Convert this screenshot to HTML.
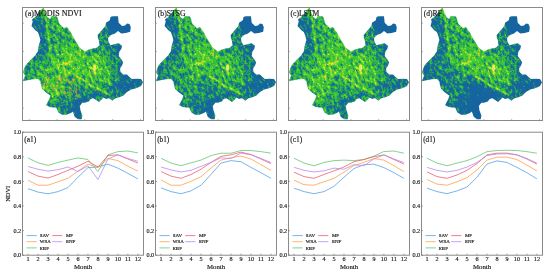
<!DOCTYPE html>
<html lang="en"><head><meta charset="utf-8"><title>NDVI reconstruction comparison</title>
<style>html,body{margin:0;padding:0;background:#fff}svg{display:block}text{font-family:"Liberation Serif",serif;fill:#1a1a1a;stroke:#1a1a1a;stroke-width:0.16px}</style>
</head><body>
<svg width="550" height="275" viewBox="0 0 550 275">
<defs>
<clipPath id="yn"><polygon points="43.5,7.5 45.5,12.6 47.4,17 50,19 51.8,16 57,16.5 58,19 59.5,24 64,28 67,27 71,32.4 72,35 76,41.4 79.8,47.7 85,51.5 88.8,49.6 92.6,48.4 96.5,47.7 99.6,45.2 99,41.4 97.7,37.5 97.7,35 101.5,30.5 105.4,26 106,22.8 109.8,20.3 110.5,17 112.4,16.2 118,16.2 118.3,19 118.7,22.8 122,26 125,25.4 127,23.5 129.5,24 130.8,27.3 130.2,31.7 125.7,33 121.3,33.6 118,31 115,33.6 111,35 108,38 108.5,42 110.5,45.2 115,44 118.7,43.3 122,45.8 121.3,49 119.4,51.5 118.7,56 121.3,59.2 123.2,62.4 122,65.5 120,68.8 120.6,72 123.2,74.5 127,74.5 129.5,77 132,79 137.2,78.7 141,79 143,82.2 141,86 138.5,87.3 135.3,88.5 132,89.2 129.5,90.5 127,92 123.2,95.7 118.7,97.6 115.5,98.3 112.4,100.8 109.2,98.3 106,99 103.5,97.6 101,100.2 99,102 96.5,100.2 93.3,98.3 90.7,99 88.8,101.5 85,102.7 82.4,102.7 79.8,106 80.5,110.4 82.4,115.5 81.7,119.3 78,119.3 74.7,116.7 72.8,111.6 71,113 66.5,114.8 62,114.8 58.2,112.3 56.3,107.8 50.5,107.2 46,105.3 48.6,100.2 50.5,95.7 46,92.4 42.3,89.2 41,85.4 40.4,81.5 37.8,79 32.7,79.3 27.6,80.3 22.8,81.3 23.8,79 25,75.8 23.2,72.6 23.8,69.5 25.7,65 27.6,63 31.5,59 34.6,56 37.8,51.5 38.5,46.5 40.4,40 39,35 37.8,32 35.6,30.5 31.5,26 32.7,21.5 32,19.6 36.5,15.8 39,12.6 41.5,9.5"/></clipPath>
<filter id="tex" x="0" y="0" width="100%" height="100%" filterUnits="objectBoundingBox" color-interpolation-filters="sRGB">
<feTurbulence type="fractalNoise" baseFrequency="0.4 0.2" numOctaves="4" seed="7" result="n"/>
<feColorMatrix in="n" type="matrix" values="1 0 0 0 0  1 0 0 0 0  1 0 0 0 0  0 0 0 0 1" result="ng"/>
<feTurbulence type="fractalNoise" baseFrequency="0.9" numOctaves="2" seed="3" result="m"/>
<feColorMatrix in="m" type="matrix" values="0 1 0 0 0  0 1 0 0 0  0 1 0 0 0  0 0 0 0 1" result="mg"/>
<feComposite in="SourceGraphic" in2="ng" operator="arithmetic" k1="0" k2="1.0" k3="1.2" k4="-0.70" result="mix0"/>
<feComposite in="mix0" in2="mg" operator="arithmetic" k1="0" k2="1" k3="0.7" k4="-0.35" result="mix"/>
<feComponentTransfer in="mix"><feFuncR type="table" tableValues="0.086 0.086 0.082 0.082 0.082 0.086 0.090 0.102 0.157 0.196 0.204 0.212 0.235 0.282 0.361 0.478 0.620 0.776 0.918 0.965 0.953"/><feFuncG type="table" tableValues="0.392 0.392 0.396 0.404 0.408 0.420 0.435 0.494 0.667 0.753 0.761 0.769 0.780 0.796 0.824 0.863 0.898 0.925 0.941 0.871 0.706"/><feFuncB type="table" tableValues="0.635 0.635 0.627 0.620 0.612 0.600 0.584 0.529 0.306 0.216 0.212 0.208 0.204 0.196 0.188 0.180 0.173 0.165 0.157 0.157 0.157"/><feFuncA type="linear" slope="0" intercept="1"/></feComponentTransfer><feGaussianBlur stdDeviation="0.3"/>
</filter>
<filter id="bl2" x="-20%" y="-20%" width="140%" height="140%" color-interpolation-filters="sRGB"><feGaussianBlur stdDeviation="0.7"/></filter>
<filter id="bl" x="-20%" y="-20%" width="140%" height="140%" color-interpolation-filters="sRGB"><feGaussianBlur stdDeviation="3"/></filter>
</defs>
<g transform="translate(0,0)">
<g clip-path="url(#yn)"><g filter="url(#tex)" transform="rotate(-22 83 64)">
<rect x="-10" y="-30" width="190" height="190" fill="rgb(120,120,120)"/>
<g filter="url(#bl)" transform="rotate(22 83 64)">
<rect x="20" y="5" width="11" height="10.5" fill="rgb(95,95,95)"/>
<rect x="30" y="5" width="11" height="10.5" fill="rgb(133,133,133)"/>
<rect x="40" y="5" width="11" height="10.5" fill="rgb(192,192,192)"/>
<rect x="50" y="5" width="11" height="10.5" fill="rgb(164,164,164)"/>
<rect x="60" y="5" width="21" height="10.5" fill="rgb(142,142,142)"/>
<rect x="80" y="5" width="11" height="10.5" fill="rgb(117,117,117)"/>
<rect x="90" y="5" width="11" height="10.5" fill="rgb(76,76,76)"/>
<rect x="100" y="5" width="51" height="10.5" fill="rgb(9,9,9)"/>
<rect x="20" y="15" width="21" height="10.5" fill="rgb(95,95,95)"/>
<rect x="40" y="15" width="41" height="10.5" fill="rgb(142,142,142)"/>
<rect x="80" y="15" width="11" height="10.5" fill="rgb(119,119,119)"/>
<rect x="90" y="15" width="11" height="10.5" fill="rgb(95,95,95)"/>
<rect x="100" y="15" width="11" height="10.5" fill="rgb(76,76,76)"/>
<rect x="110" y="15" width="41" height="10.5" fill="rgb(9,9,9)"/>
<rect x="20" y="25" width="21" height="10.5" fill="rgb(76,76,76)"/>
<rect x="40" y="25" width="11" height="10.5" fill="rgb(110,110,110)"/>
<rect x="50" y="25" width="31" height="10.5" fill="rgb(142,142,142)"/>
<rect x="80" y="25" width="11" height="10.5" fill="rgb(123,123,123)"/>
<rect x="90" y="25" width="11" height="10.5" fill="rgb(102,102,102)"/>
<rect x="100" y="25" width="11" height="10.5" fill="rgb(95,95,95)"/>
<rect x="110" y="25" width="41" height="10.5" fill="rgb(9,9,9)"/>
<rect x="20" y="35" width="21" height="10.5" fill="rgb(76,76,76)"/>
<rect x="40" y="35" width="11" height="10.5" fill="rgb(95,95,95)"/>
<rect x="50" y="35" width="31" height="10.5" fill="rgb(142,142,142)"/>
<rect x="80" y="35" width="11" height="10.5" fill="rgb(136,136,136)"/>
<rect x="90" y="35" width="11" height="10.5" fill="rgb(110,110,110)"/>
<rect x="100" y="35" width="11" height="10.5" fill="rgb(123,123,123)"/>
<rect x="110" y="35" width="11" height="10.5" fill="rgb(76,76,76)"/>
<rect x="120" y="35" width="11" height="10.5" fill="rgb(54,54,54)"/>
<rect x="130" y="35" width="21" height="10.5" fill="rgb(9,9,9)"/>
<rect x="20" y="45" width="31" height="10.5" fill="rgb(110,110,110)"/>
<rect x="50" y="45" width="11" height="10.5" fill="rgb(142,142,142)"/>
<rect x="60" y="45" width="11" height="10.5" fill="rgb(164,164,164)"/>
<rect x="70" y="45" width="11" height="10.5" fill="rgb(192,192,192)"/>
<rect x="80" y="45" width="11" height="10.5" fill="rgb(164,164,164)"/>
<rect x="90" y="45" width="21" height="10.5" fill="rgb(123,123,123)"/>
<rect x="110" y="45" width="31" height="10.5" fill="rgb(76,76,76)"/>
<rect x="140" y="45" width="11" height="10.5" fill="rgb(42,42,42)"/>
<rect x="20" y="55" width="11" height="10.5" fill="rgb(110,110,110)"/>
<rect x="30" y="55" width="21" height="10.5" fill="rgb(123,123,123)"/>
<rect x="50" y="55" width="11" height="10.5" fill="rgb(164,164,164)"/>
<rect x="60" y="55" width="21" height="10.5" fill="rgb(192,192,192)"/>
<rect x="80" y="55" width="11" height="10.5" fill="rgb(164,164,164)"/>
<rect x="90" y="55" width="11" height="10.5" fill="rgb(192,192,192)"/>
<rect x="100" y="55" width="11" height="10.5" fill="rgb(164,164,164)"/>
<rect x="110" y="55" width="11" height="10.5" fill="rgb(110,110,110)"/>
<rect x="120" y="55" width="31" height="10.5" fill="rgb(76,76,76)"/>
<rect x="20" y="65" width="11" height="10.5" fill="rgb(123,123,123)"/>
<rect x="30" y="65" width="11" height="10.5" fill="rgb(142,142,142)"/>
<rect x="40" y="65" width="21" height="10.5" fill="rgb(164,164,164)"/>
<rect x="60" y="65" width="21" height="10.5" fill="rgb(192,192,192)"/>
<rect x="80" y="65" width="11" height="10.5" fill="rgb(164,164,164)"/>
<rect x="90" y="65" width="11" height="10.5" fill="rgb(213,213,213)"/>
<rect x="100" y="65" width="11" height="10.5" fill="rgb(164,164,164)"/>
<rect x="110" y="65" width="11" height="10.5" fill="rgb(123,123,123)"/>
<rect x="120" y="65" width="31" height="10.5" fill="rgb(76,76,76)"/>
<rect x="20" y="75" width="11" height="10.5" fill="rgb(110,110,110)"/>
<rect x="30" y="75" width="11" height="10.5" fill="rgb(142,142,142)"/>
<rect x="40" y="75" width="31" height="10.5" fill="rgb(164,164,164)"/>
<rect x="70" y="75" width="11" height="10.5" fill="rgb(142,142,142)"/>
<rect x="80" y="75" width="31" height="10.5" fill="rgb(164,164,164)"/>
<rect x="110" y="75" width="11" height="10.5" fill="rgb(123,123,123)"/>
<rect x="120" y="75" width="11" height="10.5" fill="rgb(95,95,95)"/>
<rect x="130" y="75" width="21" height="10.5" fill="rgb(76,76,76)"/>
<rect x="20" y="85" width="11" height="10.5" fill="rgb(110,110,110)"/>
<rect x="30" y="85" width="11" height="10.5" fill="rgb(153,153,153)"/>
<rect x="40" y="85" width="11" height="10.5" fill="rgb(164,164,164)"/>
<rect x="50" y="85" width="11" height="10.5" fill="rgb(192,192,192)"/>
<rect x="60" y="85" width="11" height="10.5" fill="rgb(142,142,142)"/>
<rect x="70" y="85" width="21" height="10.5" fill="rgb(110,110,110)"/>
<rect x="90" y="85" width="11" height="10.5" fill="rgb(123,123,123)"/>
<rect x="100" y="85" width="11" height="10.5" fill="rgb(110,110,110)"/>
<rect x="110" y="85" width="11" height="10.5" fill="rgb(95,95,95)"/>
<rect x="120" y="85" width="31" height="10.5" fill="rgb(76,76,76)"/>
<rect x="20" y="95" width="11" height="10.5" fill="rgb(117,117,117)"/>
<rect x="30" y="95" width="41" height="10.5" fill="rgb(123,123,123)"/>
<rect x="70" y="95" width="11" height="10.5" fill="rgb(95,95,95)"/>
<rect x="80" y="95" width="11" height="10.5" fill="rgb(76,76,76)"/>
<rect x="90" y="95" width="31" height="10.5" fill="rgb(95,95,95)"/>
<rect x="120" y="95" width="11" height="10.5" fill="rgb(85,85,85)"/>
<rect x="130" y="95" width="21" height="10.5" fill="rgb(76,76,76)"/>
<rect x="20" y="105" width="51" height="10.5" fill="rgb(110,110,110)"/>
<rect x="70" y="105" width="21" height="10.5" fill="rgb(76,76,76)"/>
<rect x="90" y="105" width="11" height="10.5" fill="rgb(85,85,85)"/>
<rect x="100" y="105" width="31" height="10.5" fill="rgb(95,95,95)"/>
<rect x="130" y="105" width="11" height="10.5" fill="rgb(85,85,85)"/>
<rect x="140" y="105" width="11" height="10.5" fill="rgb(76,76,76)"/>
<rect x="20" y="115" width="41" height="10.5" fill="rgb(110,110,110)"/>
<rect x="60" y="115" width="11" height="10.5" fill="rgb(95,95,95)"/>
<rect x="70" y="115" width="31" height="10.5" fill="rgb(76,76,76)"/>
<rect x="100" y="115" width="11" height="10.5" fill="rgb(85,85,85)"/>
<rect x="110" y="115" width="31" height="10.5" fill="rgb(95,95,95)"/>
<rect x="140" y="115" width="11" height="10.5" fill="rgb(85,85,85)"/>
<ellipse cx="38" cy="30" rx="7" ry="12" fill="rgb(49,49,49)"/>
<ellipse cx="43.5" cy="46" rx="5" ry="13" fill="rgb(69,69,69)"/>
<ellipse cx="78" cy="112" rx="4" ry="7" fill="rgb(29,29,29)"/>
<ellipse cx="120" cy="24" rx="12" ry="7" fill="rgb(9,9,9)"/>
<ellipse cx="128" cy="85" rx="12" ry="5" fill="rgb(42,42,42)"/>
</g>
<g filter="url(#bl2)" transform="rotate(22 83 64)"><path d="M44.2 8L46.3 20L47.8 34L50 50L52.5 63" stroke="rgb(213,213,213)" stroke-width="1.8" fill="none"/><path d="M76 76L92 86L110 95" stroke="rgb(213,213,213)" stroke-width="2" fill="none"/></g>
</g></g>
<ellipse cx="94.6" cy="67.6" rx="1.5" ry="3.4" fill="#eef03c" clip-path="url(#yn)"/><ellipse cx="94.6" cy="68" rx="0.7" ry="1.8" fill="#d9dcc0"/>
<path clip-path="url(#yn)" d="M63.7 92.3l0.7 1.6M75.8 92.2l0.8 1.7M41.1 84.0l0.8 1.7M44.3 84.1l0.4 0.9M60.7 87.2l0.3 0.6M48.2 78.4l0.8 1.7M48.0 76.5l0.8 1.8M73.2 78.7l0.8 1.8M60.5 90.3l0.4 0.8M75.8 90.7l0.8 1.8M74.0 79.0l0.5 1.0M46.3 74.4l0.3 0.7M51.5 88.1l0.3 0.6M65.8 80.1l0.4 1.0M71.1 84.4l0.4 1.0M58.3 91.1l0.3 0.7M68.5 95.3l0.3 0.6M69.9 81.0l0.6 1.3M75.3 98.3l0.5 1.0M53.5 85.7l0.7 1.5M70.3 95.8l0.3 0.6M52.9 88.3l0.8 1.7M60.7 79.4l0.4 1.0M60.3 82.2l0.4 0.9M57.3 82.7l0.3 0.7M76.1 88.9l0.7 1.5M44.1 83.0l0.4 0.8M72.1 78.8l0.5 1.1M78.0 95.6l0.8 1.8M57.2 84.6l0.7 1.5M58.2 78.7l0.5 1.1M45.6 81.3l0.8 1.8M76.5 88.8l0.5 1.2M73.0 80.8l0.7 1.5M69.4 90.8l0.6 1.4M68.9 80.9l0.7 1.4M50.7 84.6l0.7 1.5M66.3 78.8l0.8 1.7M64.7 87.4l0.3 0.6M60.8 77.5l0.6 1.4M64.6 93.9l0.5 1.0M64.5 92.1l0.7 1.6M73.1 90.7l0.8 1.8M76.3 85.5l0.6 1.2M75.6 84.3l0.6 1.4M67.3 91.9l0.4 0.8M69.7 87.4l0.6 1.4M56.0 88.7l0.7 1.5M64.2 91.6l0.3 0.6M46.1 83.2l0.6 1.4M57.9 76.8l0.3 0.7M45.1 79.5l0.4 0.8M57.7 81.4l0.6 1.3M62.4 77.1l0.8 1.7M40.0 82.2l0.4 0.9M71.6 81.2l0.3 0.6M60.7 80.2l0.6 1.3M76.4 94.6l0.5 1.1M70.9 89.3l0.5 1.0M45.4 87.9l0.6 1.3" stroke="#eea23a" stroke-width="0.9" stroke-linecap="round" opacity="0.85" fill="none"/>
<rect x="22.5" y="7.5" width="121" height="113" fill="none" stroke="#8a8a8a" stroke-width="1"/>
<path d="M29.3 120.5v-1.6M57.1 120.5v-1.6M84.9 120.5v-1.6M112.7 120.5v-1.6M140.5 120.5v-1.6M22.5 23.2h1.6M22.5 51.5h1.6M22.5 79.9h1.6M22.5 108.2h1.6" stroke="#777" stroke-width="0.5" fill="none"/>
<text x="25" y="15.6" font-size="7.3" textLength="56.7" lengthAdjust="spacingAndGlyphs">(a)MODIS NDVI</text>
<rect x="22.5" y="132.2" width="121" height="123" fill="#fff" stroke="#8a8a8a" stroke-width="1"/>
<path d="M28.05 255.2v-1.5M38.03 255.2v-1.5M48.02 255.2v-1.5M58 255.2v-1.5M67.99 255.2v-1.5M77.97 255.2v-1.5M87.96 255.2v-1.5M97.94 255.2v-1.5M107.93 255.2v-1.5M117.91 255.2v-1.5M127.9 255.2v-1.5M137.88 255.2v-1.5M22.5 255.2h1.5M22.5 230.6h1.5M22.5 206h1.5M22.5 181.4h1.5M22.5 156.8h1.5M22.5 132.2h1.5" stroke="#555" stroke-width="0.5" fill="none"/>
<text x="21.2" y="257.3" font-size="6.2" text-anchor="end">0.0</text>
<text x="21.2" y="232.7" font-size="6.2" text-anchor="end">0.2</text>
<text x="21.2" y="208.1" font-size="6.2" text-anchor="end">0.4</text>
<text x="21.2" y="183.5" font-size="6.2" text-anchor="end">0.6</text>
<text x="21.2" y="158.9" font-size="6.2" text-anchor="end">0.8</text>
<text x="21.2" y="134.3" font-size="6.2" text-anchor="end">1.0</text>
<text x="28.05" y="261.4" font-size="6.2" text-anchor="middle">1</text>
<text x="38.03" y="261.4" font-size="6.2" text-anchor="middle">2</text>
<text x="48.02" y="261.4" font-size="6.2" text-anchor="middle">3</text>
<text x="58" y="261.4" font-size="6.2" text-anchor="middle">4</text>
<text x="67.99" y="261.4" font-size="6.2" text-anchor="middle">5</text>
<text x="77.97" y="261.4" font-size="6.2" text-anchor="middle">6</text>
<text x="87.96" y="261.4" font-size="6.2" text-anchor="middle">7</text>
<text x="97.94" y="261.4" font-size="6.2" text-anchor="middle">8</text>
<text x="107.93" y="261.4" font-size="6.2" text-anchor="middle">9</text>
<text x="117.91" y="261.4" font-size="6.2" text-anchor="middle">10</text>
<text x="127.9" y="261.4" font-size="6.2" text-anchor="middle">11</text>
<text x="137.88" y="261.4" font-size="6.2" text-anchor="middle">12</text>
<text x="83.1" y="269" font-size="6.8" text-anchor="middle">Month</text>
<text x="24.2" y="142.4" font-size="7.3" textLength="12" lengthAdjust="spacingAndGlyphs">(a1)</text>
<polyline points="28.05,188.66 38.03,192.1 48.02,193.82 58,191.61 67.99,187.55 77.97,177.22 87.96,167.62 97.94,167.01 107.93,164.18 117.91,168.12 127.9,173.4 137.88,178.82" fill="none" stroke="#57a1e2" stroke-width="0.8" stroke-linejoin="round"/>
<polyline points="28.05,180.17 38.03,185.21 48.02,185.21 58,181.77 67.99,178.32 77.97,171.07 87.96,164.06 97.94,167.62 107.93,158.52 117.91,160.61 127.9,166.27 137.88,171.07" fill="none" stroke="#ff9f4a" stroke-width="0.8" stroke-linejoin="round"/>
<polyline points="28.05,157.91 38.03,162.83 48.02,165.41 58,162.46 67.99,160.12 77.97,157.91 87.96,159.51 97.94,171.56 107.93,154.83 117.91,151.63 127.9,151.02 137.88,152.86" fill="none" stroke="#66c774" stroke-width="0.8" stroke-linejoin="round"/>
<polyline points="28.05,171.56 38.03,176.11 48.02,178.08 58,174.51 67.99,170.33 77.97,166.27 87.96,161.23 97.94,167.01 107.93,155.57 117.91,154.83 127.9,159.01 137.88,163.07" fill="none" stroke="#ee5f6a" stroke-width="0.8" stroke-linejoin="round"/>
<polyline points="28.05,166.52 38.03,169.22 48.02,171.07 58,169.71 67.99,167.01 77.97,171.56 87.96,165.78 97.94,179.56 107.93,159.01 117.91,154.83 127.9,158.52 137.88,161.23" fill="none" stroke="#b98af0" stroke-width="0.8" stroke-linejoin="round"/>
<path d="M26.5 235.6h10.2" stroke="#57a1e2" stroke-width="0.8"/>
<text x="39.8" y="237.3" font-size="5">SAV</text>
<path d="M26.5 241.7h10.2" stroke="#ff9f4a" stroke-width="0.8"/>
<text x="39.8" y="243.4" font-size="5">WSA</text>
<path d="M26.5 247.9h10.2" stroke="#66c774" stroke-width="0.8"/>
<text x="39.8" y="249.6" font-size="5">EBF</text>
<path d="M52.2 235.6h10.2" stroke="#ee5f6a" stroke-width="0.8"/>
<text x="65.9" y="237.3" font-size="5">MF</text>
<path d="M52.2 241.7h10.2" stroke="#b98af0" stroke-width="0.8"/>
<text x="65.9" y="243.4" font-size="5">ENF</text>
</g>
<g transform="translate(133,0)">
<g clip-path="url(#yn)"><g filter="url(#tex)" transform="rotate(-22 83 64)">
<rect x="-10" y="-30" width="190" height="190" fill="rgb(120,120,120)"/>
<g filter="url(#bl)" transform="rotate(22 83 64)">
<rect x="20" y="5" width="11" height="10.5" fill="rgb(76,76,76)"/>
<rect x="30" y="5" width="11" height="10.5" fill="rgb(123,123,123)"/>
<rect x="40" y="5" width="11" height="10.5" fill="rgb(192,192,192)"/>
<rect x="50" y="5" width="11" height="10.5" fill="rgb(164,164,164)"/>
<rect x="60" y="5" width="21" height="10.5" fill="rgb(142,142,142)"/>
<rect x="80" y="5" width="11" height="10.5" fill="rgb(117,117,117)"/>
<rect x="90" y="5" width="11" height="10.5" fill="rgb(76,76,76)"/>
<rect x="100" y="5" width="51" height="10.5" fill="rgb(9,9,9)"/>
<rect x="20" y="15" width="21" height="10.5" fill="rgb(76,76,76)"/>
<rect x="40" y="15" width="41" height="10.5" fill="rgb(142,142,142)"/>
<rect x="80" y="15" width="11" height="10.5" fill="rgb(119,119,119)"/>
<rect x="90" y="15" width="11" height="10.5" fill="rgb(95,95,95)"/>
<rect x="100" y="15" width="11" height="10.5" fill="rgb(76,76,76)"/>
<rect x="110" y="15" width="41" height="10.5" fill="rgb(9,9,9)"/>
<rect x="20" y="25" width="21" height="10.5" fill="rgb(76,76,76)"/>
<rect x="40" y="25" width="11" height="10.5" fill="rgb(110,110,110)"/>
<rect x="50" y="25" width="31" height="10.5" fill="rgb(142,142,142)"/>
<rect x="80" y="25" width="11" height="10.5" fill="rgb(123,123,123)"/>
<rect x="90" y="25" width="11" height="10.5" fill="rgb(102,102,102)"/>
<rect x="100" y="25" width="11" height="10.5" fill="rgb(95,95,95)"/>
<rect x="110" y="25" width="41" height="10.5" fill="rgb(9,9,9)"/>
<rect x="20" y="35" width="21" height="10.5" fill="rgb(76,76,76)"/>
<rect x="40" y="35" width="11" height="10.5" fill="rgb(95,95,95)"/>
<rect x="50" y="35" width="31" height="10.5" fill="rgb(142,142,142)"/>
<rect x="80" y="35" width="11" height="10.5" fill="rgb(136,136,136)"/>
<rect x="90" y="35" width="21" height="10.5" fill="rgb(110,110,110)"/>
<rect x="110" y="35" width="11" height="10.5" fill="rgb(76,76,76)"/>
<rect x="120" y="35" width="11" height="10.5" fill="rgb(54,54,54)"/>
<rect x="130" y="35" width="21" height="10.5" fill="rgb(9,9,9)"/>
<rect x="20" y="45" width="21" height="10.5" fill="rgb(95,95,95)"/>
<rect x="40" y="45" width="11" height="10.5" fill="rgb(110,110,110)"/>
<rect x="50" y="45" width="11" height="10.5" fill="rgb(142,142,142)"/>
<rect x="60" y="45" width="11" height="10.5" fill="rgb(164,164,164)"/>
<rect x="70" y="45" width="11" height="10.5" fill="rgb(192,192,192)"/>
<rect x="80" y="45" width="11" height="10.5" fill="rgb(164,164,164)"/>
<rect x="90" y="45" width="21" height="10.5" fill="rgb(123,123,123)"/>
<rect x="110" y="45" width="31" height="10.5" fill="rgb(76,76,76)"/>
<rect x="140" y="45" width="11" height="10.5" fill="rgb(42,42,42)"/>
<rect x="20" y="55" width="11" height="10.5" fill="rgb(95,95,95)"/>
<rect x="30" y="55" width="21" height="10.5" fill="rgb(110,110,110)"/>
<rect x="50" y="55" width="11" height="10.5" fill="rgb(142,142,142)"/>
<rect x="60" y="55" width="21" height="10.5" fill="rgb(192,192,192)"/>
<rect x="80" y="55" width="21" height="10.5" fill="rgb(164,164,164)"/>
<rect x="100" y="55" width="11" height="10.5" fill="rgb(142,142,142)"/>
<rect x="110" y="55" width="11" height="10.5" fill="rgb(110,110,110)"/>
<rect x="120" y="55" width="31" height="10.5" fill="rgb(76,76,76)"/>
<rect x="20" y="65" width="11" height="10.5" fill="rgb(95,95,95)"/>
<rect x="30" y="65" width="11" height="10.5" fill="rgb(123,123,123)"/>
<rect x="40" y="65" width="21" height="10.5" fill="rgb(142,142,142)"/>
<rect x="60" y="65" width="21" height="10.5" fill="rgb(164,164,164)"/>
<rect x="80" y="65" width="11" height="10.5" fill="rgb(142,142,142)"/>
<rect x="90" y="65" width="11" height="10.5" fill="rgb(192,192,192)"/>
<rect x="100" y="65" width="11" height="10.5" fill="rgb(142,142,142)"/>
<rect x="110" y="65" width="11" height="10.5" fill="rgb(110,110,110)"/>
<rect x="120" y="65" width="31" height="10.5" fill="rgb(76,76,76)"/>
<rect x="20" y="75" width="11" height="10.5" fill="rgb(95,95,95)"/>
<rect x="30" y="75" width="11" height="10.5" fill="rgb(110,110,110)"/>
<rect x="40" y="75" width="11" height="10.5" fill="rgb(123,123,123)"/>
<rect x="50" y="75" width="21" height="10.5" fill="rgb(142,142,142)"/>
<rect x="70" y="75" width="11" height="10.5" fill="rgb(123,123,123)"/>
<rect x="80" y="75" width="31" height="10.5" fill="rgb(142,142,142)"/>
<rect x="110" y="75" width="11" height="10.5" fill="rgb(123,123,123)"/>
<rect x="120" y="75" width="11" height="10.5" fill="rgb(95,95,95)"/>
<rect x="130" y="75" width="21" height="10.5" fill="rgb(76,76,76)"/>
<rect x="20" y="85" width="11" height="10.5" fill="rgb(95,95,95)"/>
<rect x="30" y="85" width="11" height="10.5" fill="rgb(117,117,117)"/>
<rect x="40" y="85" width="31" height="10.5" fill="rgb(123,123,123)"/>
<rect x="70" y="85" width="11" height="10.5" fill="rgb(95,95,95)"/>
<rect x="80" y="85" width="11" height="10.5" fill="rgb(110,110,110)"/>
<rect x="90" y="85" width="11" height="10.5" fill="rgb(123,123,123)"/>
<rect x="100" y="85" width="11" height="10.5" fill="rgb(110,110,110)"/>
<rect x="110" y="85" width="11" height="10.5" fill="rgb(95,95,95)"/>
<rect x="120" y="85" width="31" height="10.5" fill="rgb(76,76,76)"/>
<rect x="20" y="95" width="11" height="10.5" fill="rgb(102,102,102)"/>
<rect x="30" y="95" width="41" height="10.5" fill="rgb(110,110,110)"/>
<rect x="70" y="95" width="11" height="10.5" fill="rgb(95,95,95)"/>
<rect x="80" y="95" width="11" height="10.5" fill="rgb(76,76,76)"/>
<rect x="90" y="95" width="21" height="10.5" fill="rgb(95,95,95)"/>
<rect x="110" y="95" width="41" height="10.5" fill="rgb(76,76,76)"/>
<rect x="20" y="105" width="31" height="10.5" fill="rgb(95,95,95)"/>
<rect x="50" y="105" width="11" height="10.5" fill="rgb(110,110,110)"/>
<rect x="60" y="105" width="11" height="10.5" fill="rgb(95,95,95)"/>
<rect x="70" y="105" width="21" height="10.5" fill="rgb(76,76,76)"/>
<rect x="90" y="105" width="11" height="10.5" fill="rgb(85,85,85)"/>
<rect x="100" y="105" width="11" height="10.5" fill="rgb(95,95,95)"/>
<rect x="110" y="105" width="41" height="10.5" fill="rgb(76,76,76)"/>
<rect x="20" y="115" width="31" height="10.5" fill="rgb(95,95,95)"/>
<rect x="50" y="115" width="11" height="10.5" fill="rgb(110,110,110)"/>
<rect x="60" y="115" width="11" height="10.5" fill="rgb(85,85,85)"/>
<rect x="70" y="115" width="31" height="10.5" fill="rgb(76,76,76)"/>
<rect x="100" y="115" width="11" height="10.5" fill="rgb(85,85,85)"/>
<rect x="110" y="115" width="41" height="10.5" fill="rgb(76,76,76)"/>
<ellipse cx="38" cy="30" rx="7" ry="12" fill="rgb(49,49,49)"/>
<ellipse cx="43.5" cy="46" rx="5" ry="13" fill="rgb(69,69,69)"/>
<ellipse cx="78" cy="112" rx="4" ry="7" fill="rgb(29,29,29)"/>
<ellipse cx="120" cy="24" rx="12" ry="7" fill="rgb(9,9,9)"/>
<ellipse cx="128" cy="85" rx="12" ry="5" fill="rgb(42,42,42)"/>
</g>
<g filter="url(#bl2)" transform="rotate(22 83 64)"><path d="M44.2 8L46.3 20L47.8 34L50 50L52.5 63" stroke="rgb(213,213,213)" stroke-width="1.8" fill="none"/><path d="M76 76L92 86L110 95" stroke="rgb(213,213,213)" stroke-width="2" fill="none"/></g>
</g></g>
<ellipse cx="94.6" cy="67.6" rx="1.5" ry="3.4" fill="#eef03c" clip-path="url(#yn)"/><ellipse cx="94.6" cy="68" rx="0.7" ry="1.8" fill="#d9dcc0"/>
<rect x="22.5" y="7.5" width="121" height="113" fill="none" stroke="#8a8a8a" stroke-width="1"/>
<path d="M29.3 120.5v-1.6M57.1 120.5v-1.6M84.9 120.5v-1.6M112.7 120.5v-1.6M140.5 120.5v-1.6M22.5 23.2h1.6M22.5 51.5h1.6M22.5 79.9h1.6M22.5 108.2h1.6" stroke="#777" stroke-width="0.5" fill="none"/>
<text x="24.8" y="15.6" font-size="7.3" textLength="27.8" lengthAdjust="spacingAndGlyphs">(b)STSG</text>
<rect x="22.5" y="132.2" width="121" height="123" fill="#fff" stroke="#8a8a8a" stroke-width="1"/>
<path d="M28.05 255.2v-1.5M38.03 255.2v-1.5M48.02 255.2v-1.5M58 255.2v-1.5M67.99 255.2v-1.5M77.97 255.2v-1.5M87.96 255.2v-1.5M97.94 255.2v-1.5M107.93 255.2v-1.5M117.91 255.2v-1.5M127.9 255.2v-1.5M137.88 255.2v-1.5M22.5 255.2h1.5M22.5 230.6h1.5M22.5 206h1.5M22.5 181.4h1.5M22.5 156.8h1.5M22.5 132.2h1.5" stroke="#555" stroke-width="0.5" fill="none"/>
<text x="21.2" y="257.3" font-size="6.2" text-anchor="end">0.0</text>
<text x="21.2" y="232.7" font-size="6.2" text-anchor="end">0.2</text>
<text x="21.2" y="208.1" font-size="6.2" text-anchor="end">0.4</text>
<text x="21.2" y="183.5" font-size="6.2" text-anchor="end">0.6</text>
<text x="21.2" y="158.9" font-size="6.2" text-anchor="end">0.8</text>
<text x="21.2" y="134.3" font-size="6.2" text-anchor="end">1.0</text>
<text x="28.05" y="261.4" font-size="6.2" text-anchor="middle">1</text>
<text x="38.03" y="261.4" font-size="6.2" text-anchor="middle">2</text>
<text x="48.02" y="261.4" font-size="6.2" text-anchor="middle">3</text>
<text x="58" y="261.4" font-size="6.2" text-anchor="middle">4</text>
<text x="67.99" y="261.4" font-size="6.2" text-anchor="middle">5</text>
<text x="77.97" y="261.4" font-size="6.2" text-anchor="middle">6</text>
<text x="87.96" y="261.4" font-size="6.2" text-anchor="middle">7</text>
<text x="97.94" y="261.4" font-size="6.2" text-anchor="middle">8</text>
<text x="107.93" y="261.4" font-size="6.2" text-anchor="middle">9</text>
<text x="117.91" y="261.4" font-size="6.2" text-anchor="middle">10</text>
<text x="127.9" y="261.4" font-size="6.2" text-anchor="middle">11</text>
<text x="137.88" y="261.4" font-size="6.2" text-anchor="middle">12</text>
<text x="83.1" y="269" font-size="6.8" text-anchor="middle">Month</text>
<text x="24.2" y="142.4" font-size="7.3" textLength="12" lengthAdjust="spacingAndGlyphs">(b1)</text>
<polyline points="28.05,187.92 38.03,191.61 48.02,193.7 58,190.87 67.99,185.21 77.97,174.51 87.96,163.07 97.94,160.61 107.93,161.72 117.91,167.38 127.9,172.67 137.88,178.32" fill="none" stroke="#57a1e2" stroke-width="0.8" stroke-linejoin="round"/>
<polyline points="28.05,179.92 38.03,185.21 48.02,185.21 58,181.28 67.99,176.73 77.97,168.12 87.96,160.12 97.94,157.78 107.93,156.06 117.91,159.01 127.9,164.67 137.88,170.33" fill="none" stroke="#ff9f4a" stroke-width="0.8" stroke-linejoin="round"/>
<polyline points="28.05,158.28 38.03,163.07 48.02,165.66 58,162.83 67.99,160.12 77.97,155.57 87.96,153.23 97.94,153.23 107.93,150.53 117.91,150.53 127.9,151.63 137.88,153.11" fill="none" stroke="#66c774" stroke-width="0.8" stroke-linejoin="round"/>
<polyline points="28.05,171.56 38.03,176.11 48.02,178.32 58,174.51 67.99,169.22 77.97,162.46 87.96,156.31 97.94,154.83 107.93,152.13 117.91,154.46 127.9,159.01 137.88,163.56" fill="none" stroke="#ee5f6a" stroke-width="0.8" stroke-linejoin="round"/>
<polyline points="28.05,167.01 38.03,169.96 48.02,171.93 58,170.33 67.99,166.27 77.97,162.46 87.96,157.78 97.94,158.52 107.93,153.23 117.91,154.83 127.9,158.52 137.88,162.46" fill="none" stroke="#b98af0" stroke-width="0.8" stroke-linejoin="round"/>
<path d="M26.5 235.6h10.2" stroke="#57a1e2" stroke-width="0.8"/>
<text x="39.8" y="237.3" font-size="5">SAV</text>
<path d="M26.5 241.7h10.2" stroke="#ff9f4a" stroke-width="0.8"/>
<text x="39.8" y="243.4" font-size="5">WSA</text>
<path d="M26.5 247.9h10.2" stroke="#66c774" stroke-width="0.8"/>
<text x="39.8" y="249.6" font-size="5">EBF</text>
<path d="M52.2 235.6h10.2" stroke="#ee5f6a" stroke-width="0.8"/>
<text x="65.9" y="237.3" font-size="5">MF</text>
<path d="M52.2 241.7h10.2" stroke="#b98af0" stroke-width="0.8"/>
<text x="65.9" y="243.4" font-size="5">ENF</text>
</g>
<g transform="translate(266,0)">
<g clip-path="url(#yn)"><g filter="url(#tex)" transform="rotate(-22 83 64)">
<rect x="-10" y="-30" width="190" height="190" fill="rgb(120,120,120)"/>
<g filter="url(#bl)" transform="rotate(22 83 64)">
<rect x="20" y="5" width="11" height="10.5" fill="rgb(95,95,95)"/>
<rect x="30" y="5" width="11" height="10.5" fill="rgb(133,133,133)"/>
<rect x="40" y="5" width="11" height="10.5" fill="rgb(192,192,192)"/>
<rect x="50" y="5" width="11" height="10.5" fill="rgb(164,164,164)"/>
<rect x="60" y="5" width="21" height="10.5" fill="rgb(142,142,142)"/>
<rect x="80" y="5" width="11" height="10.5" fill="rgb(123,123,123)"/>
<rect x="90" y="5" width="11" height="10.5" fill="rgb(85,85,85)"/>
<rect x="100" y="5" width="51" height="10.5" fill="rgb(9,9,9)"/>
<rect x="20" y="15" width="21" height="10.5" fill="rgb(95,95,95)"/>
<rect x="40" y="15" width="41" height="10.5" fill="rgb(142,142,142)"/>
<rect x="80" y="15" width="11" height="10.5" fill="rgb(130,130,130)"/>
<rect x="90" y="15" width="11" height="10.5" fill="rgb(110,110,110)"/>
<rect x="100" y="15" width="11" height="10.5" fill="rgb(85,85,85)"/>
<rect x="110" y="15" width="41" height="10.5" fill="rgb(9,9,9)"/>
<rect x="20" y="25" width="21" height="10.5" fill="rgb(76,76,76)"/>
<rect x="40" y="25" width="11" height="10.5" fill="rgb(110,110,110)"/>
<rect x="50" y="25" width="21" height="10.5" fill="rgb(142,142,142)"/>
<rect x="70" y="25" width="11" height="10.5" fill="rgb(153,153,153)"/>
<rect x="80" y="25" width="11" height="10.5" fill="rgb(142,142,142)"/>
<rect x="90" y="25" width="11" height="10.5" fill="rgb(117,117,117)"/>
<rect x="100" y="25" width="11" height="10.5" fill="rgb(110,110,110)"/>
<rect x="110" y="25" width="41" height="10.5" fill="rgb(9,9,9)"/>
<rect x="20" y="35" width="21" height="10.5" fill="rgb(76,76,76)"/>
<rect x="40" y="35" width="11" height="10.5" fill="rgb(95,95,95)"/>
<rect x="50" y="35" width="11" height="10.5" fill="rgb(142,142,142)"/>
<rect x="60" y="35" width="21" height="10.5" fill="rgb(164,164,164)"/>
<rect x="80" y="35" width="11" height="10.5" fill="rgb(149,149,149)"/>
<rect x="90" y="35" width="21" height="10.5" fill="rgb(123,123,123)"/>
<rect x="110" y="35" width="11" height="10.5" fill="rgb(76,76,76)"/>
<rect x="120" y="35" width="11" height="10.5" fill="rgb(54,54,54)"/>
<rect x="130" y="35" width="21" height="10.5" fill="rgb(9,9,9)"/>
<rect x="20" y="45" width="11" height="10.5" fill="rgb(117,117,117)"/>
<rect x="30" y="45" width="21" height="10.5" fill="rgb(110,110,110)"/>
<rect x="50" y="45" width="11" height="10.5" fill="rgb(142,142,142)"/>
<rect x="60" y="45" width="11" height="10.5" fill="rgb(164,164,164)"/>
<rect x="70" y="45" width="11" height="10.5" fill="rgb(192,192,192)"/>
<rect x="80" y="45" width="11" height="10.5" fill="rgb(164,164,164)"/>
<rect x="90" y="45" width="11" height="10.5" fill="rgb(123,123,123)"/>
<rect x="100" y="45" width="11" height="10.5" fill="rgb(142,142,142)"/>
<rect x="110" y="45" width="11" height="10.5" fill="rgb(95,95,95)"/>
<rect x="120" y="45" width="21" height="10.5" fill="rgb(76,76,76)"/>
<rect x="140" y="45" width="11" height="10.5" fill="rgb(42,42,42)"/>
<rect x="20" y="55" width="21" height="10.5" fill="rgb(123,123,123)"/>
<rect x="40" y="55" width="11" height="10.5" fill="rgb(142,142,142)"/>
<rect x="50" y="55" width="11" height="10.5" fill="rgb(164,164,164)"/>
<rect x="60" y="55" width="21" height="10.5" fill="rgb(192,192,192)"/>
<rect x="80" y="55" width="11" height="10.5" fill="rgb(164,164,164)"/>
<rect x="90" y="55" width="11" height="10.5" fill="rgb(192,192,192)"/>
<rect x="100" y="55" width="11" height="10.5" fill="rgb(164,164,164)"/>
<rect x="110" y="55" width="11" height="10.5" fill="rgb(123,123,123)"/>
<rect x="120" y="55" width="31" height="10.5" fill="rgb(95,95,95)"/>
<rect x="20" y="65" width="11" height="10.5" fill="rgb(123,123,123)"/>
<rect x="30" y="65" width="11" height="10.5" fill="rgb(142,142,142)"/>
<rect x="40" y="65" width="21" height="10.5" fill="rgb(164,164,164)"/>
<rect x="60" y="65" width="21" height="10.5" fill="rgb(192,192,192)"/>
<rect x="80" y="65" width="11" height="10.5" fill="rgb(164,164,164)"/>
<rect x="90" y="65" width="11" height="10.5" fill="rgb(213,213,213)"/>
<rect x="100" y="65" width="11" height="10.5" fill="rgb(164,164,164)"/>
<rect x="110" y="65" width="11" height="10.5" fill="rgb(142,142,142)"/>
<rect x="120" y="65" width="31" height="10.5" fill="rgb(95,95,95)"/>
<rect x="20" y="75" width="11" height="10.5" fill="rgb(123,123,123)"/>
<rect x="30" y="75" width="11" height="10.5" fill="rgb(142,142,142)"/>
<rect x="40" y="75" width="11" height="10.5" fill="rgb(164,164,164)"/>
<rect x="50" y="75" width="11" height="10.5" fill="rgb(192,192,192)"/>
<rect x="60" y="75" width="11" height="10.5" fill="rgb(164,164,164)"/>
<rect x="70" y="75" width="11" height="10.5" fill="rgb(142,142,142)"/>
<rect x="80" y="75" width="31" height="10.5" fill="rgb(164,164,164)"/>
<rect x="110" y="75" width="11" height="10.5" fill="rgb(142,142,142)"/>
<rect x="120" y="75" width="11" height="10.5" fill="rgb(110,110,110)"/>
<rect x="130" y="75" width="21" height="10.5" fill="rgb(95,95,95)"/>
<rect x="20" y="85" width="11" height="10.5" fill="rgb(123,123,123)"/>
<rect x="30" y="85" width="11" height="10.5" fill="rgb(153,153,153)"/>
<rect x="40" y="85" width="21" height="10.5" fill="rgb(164,164,164)"/>
<rect x="60" y="85" width="11" height="10.5" fill="rgb(142,142,142)"/>
<rect x="70" y="85" width="21" height="10.5" fill="rgb(123,123,123)"/>
<rect x="90" y="85" width="11" height="10.5" fill="rgb(142,142,142)"/>
<rect x="100" y="85" width="11" height="10.5" fill="rgb(123,123,123)"/>
<rect x="110" y="85" width="11" height="10.5" fill="rgb(110,110,110)"/>
<rect x="120" y="85" width="31" height="10.5" fill="rgb(95,95,95)"/>
<rect x="20" y="95" width="11" height="10.5" fill="rgb(133,133,133)"/>
<rect x="30" y="95" width="41" height="10.5" fill="rgb(142,142,142)"/>
<rect x="70" y="95" width="51" height="10.5" fill="rgb(110,110,110)"/>
<rect x="120" y="95" width="11" height="10.5" fill="rgb(102,102,102)"/>
<rect x="130" y="95" width="21" height="10.5" fill="rgb(95,95,95)"/>
<rect x="20" y="105" width="51" height="10.5" fill="rgb(123,123,123)"/>
<rect x="70" y="105" width="21" height="10.5" fill="rgb(95,95,95)"/>
<rect x="90" y="105" width="11" height="10.5" fill="rgb(102,102,102)"/>
<rect x="100" y="105" width="31" height="10.5" fill="rgb(110,110,110)"/>
<rect x="130" y="105" width="11" height="10.5" fill="rgb(102,102,102)"/>
<rect x="140" y="105" width="11" height="10.5" fill="rgb(95,95,95)"/>
<rect x="20" y="115" width="41" height="10.5" fill="rgb(123,123,123)"/>
<rect x="60" y="115" width="11" height="10.5" fill="rgb(110,110,110)"/>
<rect x="70" y="115" width="31" height="10.5" fill="rgb(95,95,95)"/>
<rect x="100" y="115" width="11" height="10.5" fill="rgb(102,102,102)"/>
<rect x="110" y="115" width="31" height="10.5" fill="rgb(110,110,110)"/>
<rect x="140" y="115" width="11" height="10.5" fill="rgb(102,102,102)"/>
<ellipse cx="38" cy="30" rx="7" ry="12" fill="rgb(49,49,49)"/>
<ellipse cx="43.5" cy="46" rx="5" ry="13" fill="rgb(69,69,69)"/>
<ellipse cx="78" cy="112" rx="4" ry="7" fill="rgb(85,85,85)"/>
<ellipse cx="120" cy="24" rx="12" ry="7" fill="rgb(9,9,9)"/>
<ellipse cx="128" cy="85" rx="12" ry="5" fill="rgb(85,85,85)"/>
</g>
<g filter="url(#bl2)" transform="rotate(22 83 64)"><path d="M44.2 8L46.3 20L47.8 34L50 50L52.5 63" stroke="rgb(213,213,213)" stroke-width="1.8" fill="none"/><path d="M76 76L92 86L110 95" stroke="rgb(213,213,213)" stroke-width="2" fill="none"/></g>
</g></g>
<ellipse cx="94.6" cy="67.6" rx="1.5" ry="3.4" fill="#eef03c" clip-path="url(#yn)"/><ellipse cx="94.6" cy="68" rx="0.7" ry="1.8" fill="#d9dcc0"/>
<rect x="22.5" y="7.5" width="121" height="113" fill="none" stroke="#8a8a8a" stroke-width="1"/>
<path d="M29.3 120.5v-1.6M57.1 120.5v-1.6M84.9 120.5v-1.6M112.7 120.5v-1.6M140.5 120.5v-1.6M22.5 23.2h1.6M22.5 51.5h1.6M22.5 79.9h1.6M22.5 108.2h1.6" stroke="#777" stroke-width="0.5" fill="none"/>
<text x="24.6" y="15.6" font-size="7.3" textLength="28.7" lengthAdjust="spacingAndGlyphs">(c)LSTM</text>
<rect x="22.5" y="132.2" width="121" height="123" fill="#fff" stroke="#8a8a8a" stroke-width="1"/>
<path d="M28.05 255.2v-1.5M38.03 255.2v-1.5M48.02 255.2v-1.5M58 255.2v-1.5M67.99 255.2v-1.5M77.97 255.2v-1.5M87.96 255.2v-1.5M97.94 255.2v-1.5M107.93 255.2v-1.5M117.91 255.2v-1.5M127.9 255.2v-1.5M137.88 255.2v-1.5M22.5 255.2h1.5M22.5 230.6h1.5M22.5 206h1.5M22.5 181.4h1.5M22.5 156.8h1.5M22.5 132.2h1.5" stroke="#555" stroke-width="0.5" fill="none"/>
<text x="21.2" y="257.3" font-size="6.2" text-anchor="end">0.0</text>
<text x="21.2" y="232.7" font-size="6.2" text-anchor="end">0.2</text>
<text x="21.2" y="208.1" font-size="6.2" text-anchor="end">0.4</text>
<text x="21.2" y="183.5" font-size="6.2" text-anchor="end">0.6</text>
<text x="21.2" y="158.9" font-size="6.2" text-anchor="end">0.8</text>
<text x="21.2" y="134.3" font-size="6.2" text-anchor="end">1.0</text>
<text x="28.05" y="261.4" font-size="6.2" text-anchor="middle">1</text>
<text x="38.03" y="261.4" font-size="6.2" text-anchor="middle">2</text>
<text x="48.02" y="261.4" font-size="6.2" text-anchor="middle">3</text>
<text x="58" y="261.4" font-size="6.2" text-anchor="middle">4</text>
<text x="67.99" y="261.4" font-size="6.2" text-anchor="middle">5</text>
<text x="77.97" y="261.4" font-size="6.2" text-anchor="middle">6</text>
<text x="87.96" y="261.4" font-size="6.2" text-anchor="middle">7</text>
<text x="97.94" y="261.4" font-size="6.2" text-anchor="middle">8</text>
<text x="107.93" y="261.4" font-size="6.2" text-anchor="middle">9</text>
<text x="117.91" y="261.4" font-size="6.2" text-anchor="middle">10</text>
<text x="127.9" y="261.4" font-size="6.2" text-anchor="middle">11</text>
<text x="137.88" y="261.4" font-size="6.2" text-anchor="middle">12</text>
<text x="83.1" y="269" font-size="6.8" text-anchor="middle">Month</text>
<text x="24.2" y="142.4" font-size="7.3" textLength="12" lengthAdjust="spacingAndGlyphs">(c1)</text>
<polyline points="28.05,188.16 38.03,191.61 48.02,193.7 58,191.61 67.99,186.32 77.97,177.22 87.96,168.61 97.94,164.67 107.93,164.18 117.91,167.62 127.9,172.67 137.88,178.32" fill="none" stroke="#57a1e2" stroke-width="0.8" stroke-linejoin="round"/>
<polyline points="28.05,180.17 38.03,184.72 48.02,185.21 58,181.77 67.99,178.32 77.97,172.17 87.96,165.41 97.94,162.46 107.93,158.52 117.91,160.12 127.9,165.78 137.88,171.56" fill="none" stroke="#ff9f4a" stroke-width="0.8" stroke-linejoin="round"/>
<polyline points="28.05,158.28 38.03,163.07 48.02,165.78 58,162.46 67.99,160.61 77.97,160.12 87.96,160.61 97.94,159.51 107.93,156.06 117.91,151.51 127.9,151.02 137.88,153.23" fill="none" stroke="#66c774" stroke-width="0.8" stroke-linejoin="round"/>
<polyline points="28.05,172.17 38.03,176.6 48.02,178.32 58,174.51 67.99,170.82 77.97,167.01 87.96,161.72 97.94,159.51 107.93,156.68 117.91,154.83 127.9,159.51 137.88,164.06" fill="none" stroke="#ee5f6a" stroke-width="0.8" stroke-linejoin="round"/>
<polyline points="28.05,167.38 38.03,170.33 48.02,171.93 58,170.82 67.99,168.12 77.97,169.22 87.96,164.67 97.94,165.78 107.93,159.01 117.91,154.83 127.9,159.01 137.88,162.46" fill="none" stroke="#b98af0" stroke-width="0.8" stroke-linejoin="round"/>
<path d="M26.5 235.6h10.2" stroke="#57a1e2" stroke-width="0.8"/>
<text x="39.8" y="237.3" font-size="5">SAV</text>
<path d="M26.5 241.7h10.2" stroke="#ff9f4a" stroke-width="0.8"/>
<text x="39.8" y="243.4" font-size="5">WSA</text>
<path d="M26.5 247.9h10.2" stroke="#66c774" stroke-width="0.8"/>
<text x="39.8" y="249.6" font-size="5">EBF</text>
<path d="M52.2 235.6h10.2" stroke="#ee5f6a" stroke-width="0.8"/>
<text x="65.9" y="237.3" font-size="5">MF</text>
<path d="M52.2 241.7h10.2" stroke="#b98af0" stroke-width="0.8"/>
<text x="65.9" y="243.4" font-size="5">ENF</text>
</g>
<g transform="translate(399,0)">
<g clip-path="url(#yn)"><g filter="url(#tex)" transform="rotate(-22 83 64)">
<rect x="-10" y="-30" width="190" height="190" fill="rgb(120,120,120)"/>
<g filter="url(#bl)" transform="rotate(22 83 64)">
<rect x="20" y="5" width="11" height="10.5" fill="rgb(76,76,76)"/>
<rect x="30" y="5" width="11" height="10.5" fill="rgb(123,123,123)"/>
<rect x="40" y="5" width="11" height="10.5" fill="rgb(192,192,192)"/>
<rect x="50" y="5" width="11" height="10.5" fill="rgb(164,164,164)"/>
<rect x="60" y="5" width="21" height="10.5" fill="rgb(142,142,142)"/>
<rect x="80" y="5" width="11" height="10.5" fill="rgb(117,117,117)"/>
<rect x="90" y="5" width="11" height="10.5" fill="rgb(76,76,76)"/>
<rect x="100" y="5" width="51" height="10.5" fill="rgb(9,9,9)"/>
<rect x="20" y="15" width="21" height="10.5" fill="rgb(76,76,76)"/>
<rect x="40" y="15" width="41" height="10.5" fill="rgb(142,142,142)"/>
<rect x="80" y="15" width="11" height="10.5" fill="rgb(119,119,119)"/>
<rect x="90" y="15" width="11" height="10.5" fill="rgb(95,95,95)"/>
<rect x="100" y="15" width="11" height="10.5" fill="rgb(76,76,76)"/>
<rect x="110" y="15" width="41" height="10.5" fill="rgb(9,9,9)"/>
<rect x="20" y="25" width="21" height="10.5" fill="rgb(76,76,76)"/>
<rect x="40" y="25" width="11" height="10.5" fill="rgb(110,110,110)"/>
<rect x="50" y="25" width="31" height="10.5" fill="rgb(142,142,142)"/>
<rect x="80" y="25" width="11" height="10.5" fill="rgb(123,123,123)"/>
<rect x="90" y="25" width="11" height="10.5" fill="rgb(102,102,102)"/>
<rect x="100" y="25" width="11" height="10.5" fill="rgb(95,95,95)"/>
<rect x="110" y="25" width="41" height="10.5" fill="rgb(9,9,9)"/>
<rect x="20" y="35" width="21" height="10.5" fill="rgb(76,76,76)"/>
<rect x="40" y="35" width="11" height="10.5" fill="rgb(95,95,95)"/>
<rect x="50" y="35" width="31" height="10.5" fill="rgb(142,142,142)"/>
<rect x="80" y="35" width="11" height="10.5" fill="rgb(136,136,136)"/>
<rect x="90" y="35" width="21" height="10.5" fill="rgb(110,110,110)"/>
<rect x="110" y="35" width="11" height="10.5" fill="rgb(76,76,76)"/>
<rect x="120" y="35" width="11" height="10.5" fill="rgb(54,54,54)"/>
<rect x="130" y="35" width="21" height="10.5" fill="rgb(9,9,9)"/>
<rect x="20" y="45" width="11" height="10.5" fill="rgb(85,85,85)"/>
<rect x="30" y="45" width="11" height="10.5" fill="rgb(95,95,95)"/>
<rect x="40" y="45" width="11" height="10.5" fill="rgb(110,110,110)"/>
<rect x="50" y="45" width="11" height="10.5" fill="rgb(142,142,142)"/>
<rect x="60" y="45" width="11" height="10.5" fill="rgb(164,164,164)"/>
<rect x="70" y="45" width="11" height="10.5" fill="rgb(192,192,192)"/>
<rect x="80" y="45" width="11" height="10.5" fill="rgb(164,164,164)"/>
<rect x="90" y="45" width="21" height="10.5" fill="rgb(123,123,123)"/>
<rect x="110" y="45" width="31" height="10.5" fill="rgb(76,76,76)"/>
<rect x="140" y="45" width="11" height="10.5" fill="rgb(42,42,42)"/>
<rect x="20" y="55" width="11" height="10.5" fill="rgb(76,76,76)"/>
<rect x="30" y="55" width="11" height="10.5" fill="rgb(95,95,95)"/>
<rect x="40" y="55" width="11" height="10.5" fill="rgb(110,110,110)"/>
<rect x="50" y="55" width="11" height="10.5" fill="rgb(142,142,142)"/>
<rect x="60" y="55" width="21" height="10.5" fill="rgb(192,192,192)"/>
<rect x="80" y="55" width="21" height="10.5" fill="rgb(164,164,164)"/>
<rect x="100" y="55" width="11" height="10.5" fill="rgb(142,142,142)"/>
<rect x="110" y="55" width="11" height="10.5" fill="rgb(110,110,110)"/>
<rect x="120" y="55" width="21" height="10.5" fill="rgb(76,76,76)"/>
<rect x="140" y="55" width="11" height="10.5" fill="rgb(42,42,42)"/>
<rect x="20" y="65" width="11" height="10.5" fill="rgb(76,76,76)"/>
<rect x="30" y="65" width="11" height="10.5" fill="rgb(95,95,95)"/>
<rect x="40" y="65" width="21" height="10.5" fill="rgb(110,110,110)"/>
<rect x="60" y="65" width="11" height="10.5" fill="rgb(142,142,142)"/>
<rect x="70" y="65" width="11" height="10.5" fill="rgb(192,192,192)"/>
<rect x="80" y="65" width="11" height="10.5" fill="rgb(164,164,164)"/>
<rect x="90" y="65" width="11" height="10.5" fill="rgb(213,213,213)"/>
<rect x="100" y="65" width="11" height="10.5" fill="rgb(164,164,164)"/>
<rect x="110" y="65" width="11" height="10.5" fill="rgb(123,123,123)"/>
<rect x="120" y="65" width="21" height="10.5" fill="rgb(76,76,76)"/>
<rect x="140" y="65" width="11" height="10.5" fill="rgb(9,9,9)"/>
<rect x="20" y="75" width="21" height="10.5" fill="rgb(76,76,76)"/>
<rect x="40" y="75" width="11" height="10.5" fill="rgb(95,95,95)"/>
<rect x="50" y="75" width="21" height="10.5" fill="rgb(110,110,110)"/>
<rect x="70" y="75" width="11" height="10.5" fill="rgb(95,95,95)"/>
<rect x="80" y="75" width="11" height="10.5" fill="rgb(123,123,123)"/>
<rect x="90" y="75" width="21" height="10.5" fill="rgb(164,164,164)"/>
<rect x="110" y="75" width="11" height="10.5" fill="rgb(123,123,123)"/>
<rect x="120" y="75" width="11" height="10.5" fill="rgb(95,95,95)"/>
<rect x="130" y="75" width="11" height="10.5" fill="rgb(76,76,76)"/>
<rect x="140" y="75" width="11" height="10.5" fill="rgb(9,9,9)"/>
<rect x="20" y="85" width="11" height="10.5" fill="rgb(76,76,76)"/>
<rect x="30" y="85" width="11" height="10.5" fill="rgb(85,85,85)"/>
<rect x="40" y="85" width="31" height="10.5" fill="rgb(95,95,95)"/>
<rect x="70" y="85" width="21" height="10.5" fill="rgb(9,9,9)"/>
<rect x="90" y="85" width="11" height="10.5" fill="rgb(95,95,95)"/>
<rect x="100" y="85" width="11" height="10.5" fill="rgb(110,110,110)"/>
<rect x="110" y="85" width="11" height="10.5" fill="rgb(95,95,95)"/>
<rect x="120" y="85" width="11" height="10.5" fill="rgb(76,76,76)"/>
<rect x="130" y="85" width="21" height="10.5" fill="rgb(9,9,9)"/>
<rect x="20" y="95" width="31" height="10.5" fill="rgb(76,76,76)"/>
<rect x="50" y="95" width="11" height="10.5" fill="rgb(95,95,95)"/>
<rect x="60" y="95" width="11" height="10.5" fill="rgb(76,76,76)"/>
<rect x="70" y="95" width="31" height="10.5" fill="rgb(9,9,9)"/>
<rect x="100" y="95" width="31" height="10.5" fill="rgb(76,76,76)"/>
<rect x="130" y="95" width="21" height="10.5" fill="rgb(9,9,9)"/>
<rect x="20" y="105" width="51" height="10.5" fill="rgb(76,76,76)"/>
<rect x="70" y="105" width="31" height="10.5" fill="rgb(9,9,9)"/>
<rect x="100" y="105" width="31" height="10.5" fill="rgb(76,76,76)"/>
<rect x="130" y="105" width="11" height="10.5" fill="rgb(42,42,42)"/>
<rect x="140" y="105" width="11" height="10.5" fill="rgb(9,9,9)"/>
<rect x="20" y="115" width="41" height="10.5" fill="rgb(76,76,76)"/>
<rect x="60" y="115" width="11" height="10.5" fill="rgb(42,42,42)"/>
<rect x="70" y="115" width="31" height="10.5" fill="rgb(9,9,9)"/>
<rect x="100" y="115" width="11" height="10.5" fill="rgb(42,42,42)"/>
<rect x="110" y="115" width="31" height="10.5" fill="rgb(76,76,76)"/>
<rect x="140" y="115" width="11" height="10.5" fill="rgb(42,42,42)"/>
<ellipse cx="38" cy="30" rx="7" ry="12" fill="rgb(49,49,49)"/>
<ellipse cx="43.5" cy="46" rx="5" ry="13" fill="rgb(69,69,69)"/>
<ellipse cx="78" cy="112" rx="4" ry="7" fill="rgb(29,29,29)"/>
<ellipse cx="120" cy="24" rx="12" ry="7" fill="rgb(9,9,9)"/>
<ellipse cx="128" cy="85" rx="12" ry="5" fill="rgb(42,42,42)"/>
</g>
<g filter="url(#bl2)" transform="rotate(22 83 64)"><path d="M44.2 8L46.3 20L47.8 34L50 50L52.5 63" stroke="rgb(213,213,213)" stroke-width="1.8" fill="none"/><path d="M76 76L92 86L110 95" stroke="rgb(213,213,213)" stroke-width="2" fill="none"/></g>
</g></g>
<ellipse cx="94.6" cy="67.6" rx="1.5" ry="3.4" fill="#eef03c" clip-path="url(#yn)"/><ellipse cx="94.6" cy="68" rx="0.7" ry="1.8" fill="#d9dcc0"/>
<rect x="22.5" y="7.5" width="121" height="113" fill="none" stroke="#8a8a8a" stroke-width="1"/>
<path d="M29.3 120.5v-1.6M57.1 120.5v-1.6M84.9 120.5v-1.6M112.7 120.5v-1.6M140.5 120.5v-1.6M22.5 23.2h1.6M22.5 51.5h1.6M22.5 79.9h1.6M22.5 108.2h1.6" stroke="#777" stroke-width="0.5" fill="none"/>
<text x="24.7" y="15.6" font-size="7.3" textLength="18.2" lengthAdjust="spacingAndGlyphs">(d)RF</text>
<rect x="22.5" y="132.2" width="121" height="123" fill="#fff" stroke="#8a8a8a" stroke-width="1"/>
<path d="M28.05 255.2v-1.5M38.03 255.2v-1.5M48.02 255.2v-1.5M58 255.2v-1.5M67.99 255.2v-1.5M77.97 255.2v-1.5M87.96 255.2v-1.5M97.94 255.2v-1.5M107.93 255.2v-1.5M117.91 255.2v-1.5M127.9 255.2v-1.5M137.88 255.2v-1.5M22.5 255.2h1.5M22.5 230.6h1.5M22.5 206h1.5M22.5 181.4h1.5M22.5 156.8h1.5M22.5 132.2h1.5" stroke="#555" stroke-width="0.5" fill="none"/>
<text x="21.2" y="257.3" font-size="6.2" text-anchor="end">0.0</text>
<text x="21.2" y="232.7" font-size="6.2" text-anchor="end">0.2</text>
<text x="21.2" y="208.1" font-size="6.2" text-anchor="end">0.4</text>
<text x="21.2" y="183.5" font-size="6.2" text-anchor="end">0.6</text>
<text x="21.2" y="158.9" font-size="6.2" text-anchor="end">0.8</text>
<text x="21.2" y="134.3" font-size="6.2" text-anchor="end">1.0</text>
<text x="28.05" y="261.4" font-size="6.2" text-anchor="middle">1</text>
<text x="38.03" y="261.4" font-size="6.2" text-anchor="middle">2</text>
<text x="48.02" y="261.4" font-size="6.2" text-anchor="middle">3</text>
<text x="58" y="261.4" font-size="6.2" text-anchor="middle">4</text>
<text x="67.99" y="261.4" font-size="6.2" text-anchor="middle">5</text>
<text x="77.97" y="261.4" font-size="6.2" text-anchor="middle">6</text>
<text x="87.96" y="261.4" font-size="6.2" text-anchor="middle">7</text>
<text x="97.94" y="261.4" font-size="6.2" text-anchor="middle">8</text>
<text x="107.93" y="261.4" font-size="6.2" text-anchor="middle">9</text>
<text x="117.91" y="261.4" font-size="6.2" text-anchor="middle">10</text>
<text x="127.9" y="261.4" font-size="6.2" text-anchor="middle">11</text>
<text x="137.88" y="261.4" font-size="6.2" text-anchor="middle">12</text>
<text x="83.1" y="269" font-size="6.8" text-anchor="middle">Month</text>
<text x="24.2" y="142.4" font-size="7.3" textLength="12" lengthAdjust="spacingAndGlyphs">(d1)</text>
<polyline points="28.05,188.16 38.03,191.61 48.02,193.7 58,190.87 67.99,187.06 77.97,177.22 87.96,164.06 97.94,160.86 107.93,162.46 117.91,167.38 127.9,172.67 137.88,178.82" fill="none" stroke="#57a1e2" stroke-width="0.8" stroke-linejoin="round"/>
<polyline points="28.05,179.56 38.03,184.11 48.02,185.21 58,181.77 67.99,177.71 77.97,169.96 87.96,160.12 97.94,157.17 107.93,157.17 117.91,159.51 127.9,165.16 137.88,170.82" fill="none" stroke="#ff9f4a" stroke-width="0.8" stroke-linejoin="round"/>
<polyline points="28.05,158.28 38.03,163.07 48.02,165.78 58,163.07 67.99,160.61 77.97,156.68 87.96,151.63 97.94,150.53 107.93,150.28 117.91,150.53 127.9,151.63 137.88,153.23" fill="none" stroke="#66c774" stroke-width="0.8" stroke-linejoin="round"/>
<polyline points="28.05,171.93 38.03,176.6 48.02,178.32 58,175 67.99,170.33 77.97,163.56 87.96,154.83 97.94,153.23 107.93,153.11 117.91,154.83 127.9,159.01 137.88,164.06" fill="none" stroke="#ee5f6a" stroke-width="0.8" stroke-linejoin="round"/>
<polyline points="28.05,167.38 38.03,170.33 48.02,171.93 58,170.33 67.99,167.01 77.97,162.46 87.96,155.57 97.94,153.97 107.93,153.72 117.91,154.83 127.9,158.52 137.88,163.07" fill="none" stroke="#b98af0" stroke-width="0.8" stroke-linejoin="round"/>
<path d="M26.5 235.6h10.2" stroke="#57a1e2" stroke-width="0.8"/>
<text x="39.8" y="237.3" font-size="5">SAV</text>
<path d="M26.5 241.7h10.2" stroke="#ff9f4a" stroke-width="0.8"/>
<text x="39.8" y="243.4" font-size="5">WSA</text>
<path d="M26.5 247.9h10.2" stroke="#66c774" stroke-width="0.8"/>
<text x="39.8" y="249.6" font-size="5">EBF</text>
<path d="M52.2 235.6h10.2" stroke="#ee5f6a" stroke-width="0.8"/>
<text x="65.9" y="237.3" font-size="5">MF</text>
<path d="M52.2 241.7h10.2" stroke="#b98af0" stroke-width="0.8"/>
<text x="65.9" y="243.4" font-size="5">ENF</text>
</g>
<text transform="translate(9.9,193.8) rotate(-90)" font-size="6.4" text-anchor="middle">NDVI</text>
</svg>
</body></html>
